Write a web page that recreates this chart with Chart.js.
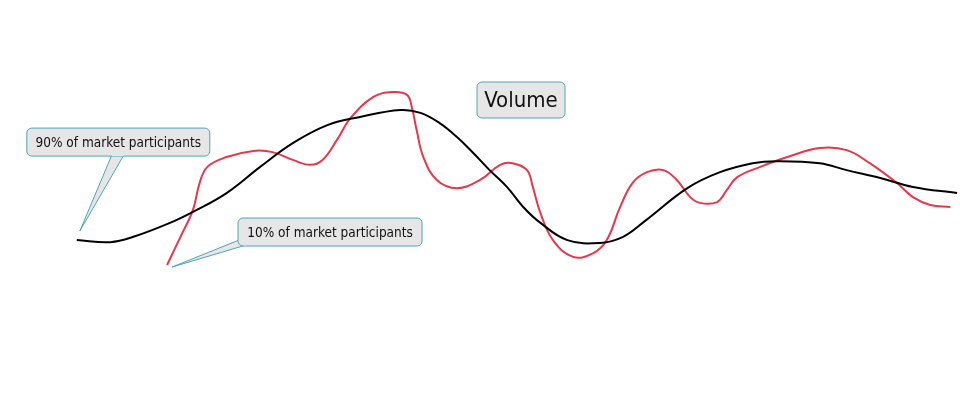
<!DOCTYPE html>
<html>
<head>
<meta charset="utf-8">
<script src="https://cdn.jsdelivr.net/npm/chart.js@4.4.0/dist/chart.umd.min.js"></script>
<style>
  html, body { margin: 0; padding: 0; background: #fff; }
  #wrap { width: 960px; height: 409px; position: relative; }
</style>
</head>
<body>
<div id="wrap"><canvas id="myChart"></canvas></div>
<script>
// time (0-100) and volume level (0-100)
var crowdTime = [8.0, 11.5, 13.9, 17.7, 20.1, 23.6, 27.1, 30.5, 34.1, 37.5, 41.7, 43.8, 45.8, 47.6, 49.3, 51.0, 52.8, 54.5, 56.3, 59.1, 62.5, 64.9, 67.2, 71.6, 75.0, 78.4, 80.9, 85.4, 88.2, 91.7, 95.1, 99.7];
var crowdVolume = [41.3, 40.8, 42.1, 45.5, 48.2, 52.8, 59.2, 65.0, 69.4, 71.4, 73.1, 72.4, 69.9, 66.5, 62.6, 58.4, 54.3, 49.4, 45.5, 41.3, 40.6, 42.1, 46.0, 54.0, 57.9, 60.1, 60.6, 60.1, 58.4, 56.5, 54.3, 52.8];

var fewTime = [17.4, 18.8, 20.1, 20.8, 21.6, 23.6, 26.4, 28.4, 30.5, 32.3, 33.6, 35.1, 36.5, 38.9, 40.9, 42.4, 42.9, 43.4, 44.1, 45.5, 47.6, 50.0, 52.1, 53.4, 54.9, 55.5, 56.3, 57.6, 59.7, 61.8, 63.2, 64.6, 65.9, 67.4, 69.1, 70.5, 71.9, 72.9, 74.7, 75.7, 76.8, 79.2, 82.0, 85.4, 88.2, 90.6, 93.4, 95.1, 96.9, 99.0];
var fewVolume = [35.2, 42.1, 48.7, 55.3, 59.2, 61.6, 63.1, 62.8, 60.9, 59.7, 60.9, 65.8, 71.1, 76.3, 77.5, 76.8, 73.8, 68.2, 61.6, 56.0, 54.0, 56.0, 59.7, 60.1, 58.4, 54.3, 47.9, 41.3, 37.2, 38.1, 41.3, 49.4, 55.3, 57.9, 58.4, 56.0, 51.8, 50.4, 50.6, 53.5, 56.7, 59.2, 61.6, 63.8, 63.3, 60.1, 55.3, 51.8, 49.9, 49.4];

var seriesNames = ['90% of market participants', '10% of market participants'];
var chartTitle = 'Volume';

function toPoints(xs, ys) {
    return xs.map(function (x, i) { return { x: x, y: ys[i] }; });
}

// rounded box with a pointer tail, tail drawn first so the box covers its base
function callout(ctx, box, tail, text, font) {
    ctx.save();
    ctx.fillStyle = '#e6e6e6';
    ctx.strokeStyle = '#4ea6b3';
    ctx.lineWidth = 1;
    if (tail) {
        ctx.beginPath();
        ctx.moveTo(tail[0][0], tail[0][1]);
        ctx.lineTo(tail[1][0], tail[1][1]);
        ctx.lineTo(tail[2][0], tail[2][1]);
        ctx.closePath();
        ctx.fill();
        ctx.stroke();
    }
    ctx.beginPath();
    ctx.roundRect(box.x, box.y, box.w, box.h, 5);
    ctx.fill();
    ctx.stroke();
    if (tail) {
        // hide the box border where the tail joins
        ctx.beginPath();
        ctx.moveTo(tail[0][0], tail[0][1]);
        ctx.lineTo(tail[2][0], tail[2][1]);
        ctx.strokeStyle = '#e6e6e6';
        ctx.lineWidth = 2;
        ctx.stroke();
    }
    ctx.fillStyle = '#111';
    ctx.font = font;
    ctx.textAlign = 'center';
    ctx.textBaseline = 'middle';
    ctx.fillText(text, box.x + box.w / 2, box.y + box.h / 2 + 1);
    ctx.restore();
}

var calloutPlugin = {
    id: 'callouts',
    afterDatasetsDraw: function (chart) {
        var ctx = chart.ctx;
        var xs = chart.scales.x, ys = chart.scales.y;

        // tip of each pointer sits just off the start of its line
        var t1x = xs.getPixelForValue(crowdTime[0]) + 3;
        var t1y = ys.getPixelForValue(crowdVolume[0]) - 9;
        var b1 = { x: t1x - 53, y: t1y - 103, w: 183, h: 28 };
        callout(ctx, b1, [[b1.x + 85, b1.y + b1.h - 1], [t1x, t1y], [b1.x + 97, b1.y + b1.h - 1]],
            seriesNames[0], '13.5px "DejaVu Sans Condensed"');

        var t2x = xs.getPixelForValue(fewTime[0]) + 5;
        var t2y = ys.getPixelForValue(fewVolume[0]) + 2;
        var b2 = { x: t2x + 66, y: t2y - 49, w: 184, h: 28 };
        callout(ctx, b2, [[b2.x + 1, b2.y + 22], [t2x, t2y], [b2.x + 8, b2.y + b2.h - 1]],
            seriesNames[1], '13.5px "DejaVu Sans Condensed"');

        var b3 = { x: 477, y: 82, w: 88, h: 36 };
        callout(ctx, b3, null, chartTitle, '22px "DejaVu Sans Condensed"');
    }
};

var ctx = document.getElementById('myChart').getContext('2d');

var chart = new Chart(ctx, {
    type: 'scatter',
    data: {
        datasets: [{
            label: seriesNames[0],
            data: toPoints(crowdTime, crowdVolume),
            showLine: true,
            borderColor: '#000000',
            borderWidth: 2,
            pointRadius: 0,
            tension: 0.4
        }, {
            label: seriesNames[1],
            data: toPoints(fewTime, fewVolume),
            showLine: true,
            borderColor: '#e8374d',
            borderWidth: 2,
            pointRadius: 0,
            tension: 0.4
        }]
    },
    options: {
        responsive: true,
        maintainAspectRatio: false,
        animation: false,
        layout: { padding: 0 },
        plugins: {
            legend: { display: false },
            tooltip: { enabled: false }
        },
        scales: {
            x: { type: 'linear', min: 0, max: 100, display: false },
            y: { type: 'linear', min: 0, max: 100, display: false }
        }
    },
    plugins: [calloutPlugin]
});
</script>
</body>
</html>
